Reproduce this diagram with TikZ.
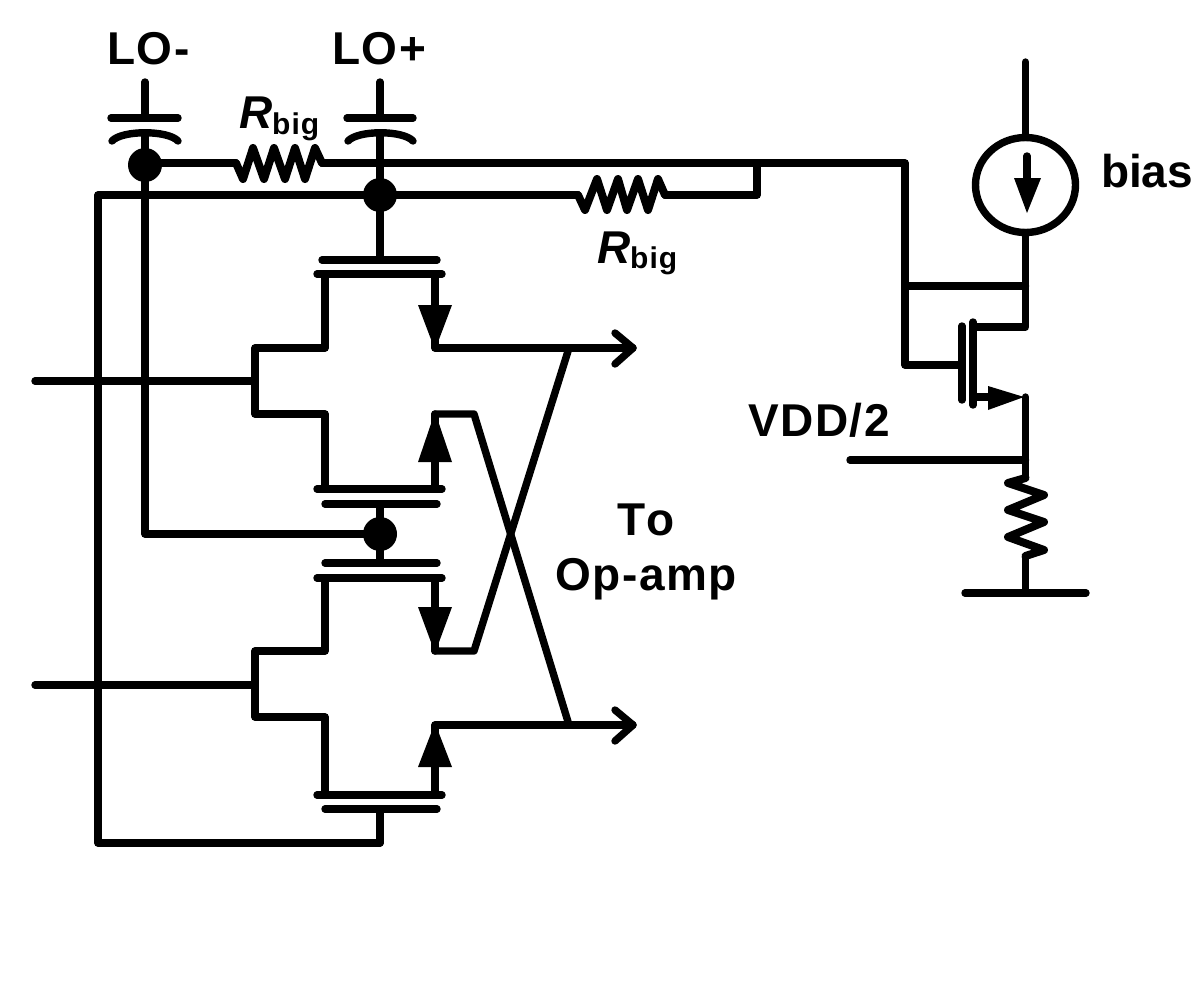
\documentclass[tikz,border=0pt]{standalone}
\usepackage{fontspec}
\usetikzlibrary{shapes.geometric}
\setmainfont{Liberation Sans}
\newfontfamily\spacedfont[LetterSpace=3.5,Kerning=Off]{Liberation Sans}
\newcommand{\txtbig}{\spacedfont\fontsize{46}{54}\selectfont\bfseries}
\newcommand{\txtplain}{\fontsize{46}{54}\selectfont\bfseries}
\newcommand{\txtsub}{\spacedfont\fontsize{30}{34}\selectfont\bfseries}
\tikzset{
  wire/.style={line width=7.4pt,line cap=round,line join=round,draw=black},
  zig/.style={wire,line width=8pt},
  dotnode/.style={circle,fill=black,inner sep=0pt,minimum size=34pt},
  tri/.style={fill=black,draw=none},
  lab/.style={inner sep=0pt,outer sep=0pt,anchor=base west,text=black},
  labc/.style={inner sep=0pt,outer sep=0pt,anchor=base,text=black,align=center},
}
\begin{document}
\begin{tikzpicture}[x=1pt,y=-1pt]
\useasboundingbox (0,0) rectangle (1192,993);
% junctions
\node[dotnode] (jm) at (145,165) {};
\node[dotnode] (jp) at (380,195) {};
\node[dotnode] (jl) at (380,534) {};
\coordinate (jmw) at (145,163);
% LO- capacitor
\coordinate (lomt) at (145,82);
\coordinate (lomp) at (145,118);
\coordinate (lomc) at (145,135);
\draw[wire] (lomt) -- (lomp);
\draw[wire] (111,118) -- (178,118);
\draw[wire] (112,141) .. controls (122,130) and (168,130) .. (178,141);
\draw[wire] (lomc) -- (jm.center) -- (145,534) -- (jl.center);
% LO+ capacitor
\coordinate (lopt) at (380,82);
\coordinate (lopp) at (380,118);
\coordinate (lopc) at (380,135);
\draw[wire] (lopt) -- (lopp);
\draw[wire] (347,118) -- (413,118);
\draw[wire] (348,141) .. controls (358,130) and (403,130) .. (413,141);
\draw[wire] (lopc) -- (jp.center);
% top wire with resistor
\draw[wire] (jmw) -- (236,163);
\draw[zig] (236,163) -- (243,179) -- (253,148) -- (264,179) -- (274,148) -- (285,179) -- (295,148) -- (305,179) -- (315,148) -- (322,163);
\draw[wire] (322,163) -- (905,163) -- (905,365) -- (962,365);
% second wire with resistor
\draw[wire] (380,843) -- (98,843) -- (98,195) -- (jp.center) -- (578,195);
\draw[zig] (578,195) -- (585,210) -- (597,179) -- (607,210) -- (618,179) -- (627,210) -- (638,179) -- (648,210) -- (658,179) -- (665,195);
\draw[wire] (665,195) -- (757,195) -- (757,163);
% upper pair
\coordinate (g1) at (380,260);
\draw[wire] (jp.center) -- (g1);
\draw[wire] (322,260) -- (437,260);
\draw[wire] (317,274) -- (442,274);
\draw[wire] (325,274) -- (325,348) -- (255,348) -- (255,414) -- (325,414) -- (325,489);
\draw[wire] (35,381) -- (255,381);
\draw[wire] (435,274) -- (435,348) -- (633,348);
\draw[wire] (615,333) -- (633,348) -- (615,364);
\fill[tri] (435,350) -- (418,305) -- (452,305) -- cycle;
\draw[wire] (435,489) -- (435,414);
\fill[tri] (435,412) -- (418,462) -- (452,462) -- cycle;
\draw[wire] (317,489) -- (442,489);
\draw[wire] (325,504) -- (437,504);
\draw[wire] (380,504) -- (jl.center) -- (380,563);
% lower pair
\draw[wire] (325,563) -- (437,563);
\draw[wire] (317,578) -- (442,578);
\draw[wire] (325,578) -- (325,651) -- (255,651) -- (255,717) -- (325,717) -- (325,795);
\draw[wire] (35,685) -- (255,685);
\draw[wire] (435,578) -- (435,651);
\fill[tri] (435,653) -- (418,607) -- (452,607) -- cycle;
\draw[wire] (435,795) -- (435,725) -- (633,725);
\draw[wire] (615,710) -- (633,725) -- (615,741);
\fill[tri] (435,723) -- (418,767) -- (452,767) -- cycle;
\draw[wire] (317,795) -- (442,795);
\draw[wire] (325,809) -- (437,809);
\draw[wire] (380,809) -- (380,843);
% cross
\draw[wire] (435,414) -- (474,414) -- (569,725);
\draw[wire] (435,651) -- (474,651) -- (569,348);
% bias branch
\node[ellipse,draw=black,line width=7.4pt,inner sep=0pt,outer sep=0pt,minimum width=100pt,minimum height=95pt] (cs) at (1025.5,185) {};
\coordinate (vt) at (1025.5,62);
\draw[wire] (vt) -- (cs.north);
\draw[wire] (1027,156) -- (1027,185);
\fill[tri] (1027,213) -- (1014,178) -- (1041,178) -- cycle;
\draw[wire] (cs.south) -- (1025.5,327) -- (975,327);
\draw[wire] (905,286) -- (1025.5,286);
\draw[wire] (962,326) -- (962,400);
\draw[wire] (973,322) -- (973,405);
\draw[wire] (973,397) -- (990,397);
\fill[tri] (1024,397) -- (988,386) -- (988,410) -- cycle;
\draw[wire] (1025.5,397) -- (1025.5,478);
\draw[zig] (1025.5,478) -- (1008,483) -- (1044,495) -- (1008,510) -- (1044,522) -- (1008,537) -- (1044,550) -- (1025.5,556);
\draw[wire] (1025.5,556) -- (1025.5,593);
\draw[wire] (850,460) -- (1025.5,460);
\draw[wire] (965,593) -- (1086,593);
% labels
\node[lab] (tlom) at (107,64) {\txtbig LO-};
\node[lab] (tlop) at (332,64) {\txtbig LO+};
\node[lab] (tr1) at (239,128) {\txtbig\itshape R\txtsub\upshape\raisebox{-6pt}{big}};
\node[lab] (tr2) at (597,263) {\txtbig\itshape R\txtsub\upshape\raisebox{-5pt}{big}};
\node[lab] (tbias) at (1101,187) {\txtplain bias};
\node[lab] (tvdd) at (748,436) {\txtbig VDD/2};
\node[labc] (tto) at (646,535) {\txtbig To};
\node[labc] (top) at (646,590) {\txtbig Op-amp};
\end{tikzpicture}
\end{document}
